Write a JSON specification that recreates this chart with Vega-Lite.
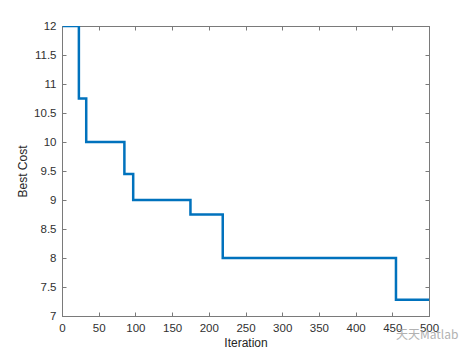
{
  "$schema": "https://vega.github.io/schema/vega-lite/v6.json",
  "autosize": "none",
  "width": 367,
  "height": 290,
  "padding": {"left": 62, "top": 26, "right": 45, "bottom": 39},
  "background": "white",
  "config": {
    "font": "Liberation Sans",
    "view": {"stroke": "#7a7a7a", "strokeWidth": 1},
    "axis": {
      "grid": false,
      "domainColor": "#7a7a7a",
      "tickColor": "#7a7a7a",
      "labelColor": "#303030",
      "titleColor": "#262626",
      "labelFont": "Liberation Sans",
      "titleFont": "Liberation Sans",
      "labelFontSize": 11.5,
      "titleFontSize": 12,
      "titleFontWeight": "normal",
      "labelFlush": false,
      "labelOverlap": false,
      "tickSize": -4
    }
  },
  "data": {
    "values": [
      {"Iteration": 1, "Cost": 12},
      {"Iteration": 23, "Cost": 10.75},
      {"Iteration": 33, "Cost": 10},
      {"Iteration": 85, "Cost": 9.45},
      {"Iteration": 97, "Cost": 9},
      {"Iteration": 175, "Cost": 8.75},
      {"Iteration": 219, "Cost": 8},
      {"Iteration": 455, "Cost": 7.28},
      {"Iteration": 500, "Cost": 7.28}
    ]
  },
  "layer": [
    {
      "mark": {"type": "line", "interpolate": "step-after", "color": "#0072BD", "strokeWidth": 2.5, "clip": true},
      "encoding": {
        "x": {"field": "Iteration", "type": "quantitative", "scale": {"domain": [0, 500], "nice": false},
              "axis": {"values": [0,50,100,150,200,250,300,350,400,450,500], "title": "Iteration", "labelPadding": 10, "titlePadding": 4}},
        "y": {"field": "Cost", "type": "quantitative", "scale": {"domain": [7, 12], "nice": false, "zero": false},
              "axis": {"values": [7,7.5,8,8.5,9,9.5,10,10.5,11,11.5,12], "format": "~g", "title": "Best Cost", "labelPadding": 10, "titlePadding": 4}}
      }
    },
    {
      "mark": {"type": "line", "opacity": 0},
      "encoding": {
        "x": {"field": "Iteration", "type": "quantitative", "scale": {"domain": [0, 500], "nice": false},
              "axis": {"orient": "top", "values": [0,50,100,150,200,250,300,350,400,450,500], "labels": false, "title": null}},
        "y": {"field": "Cost", "type": "quantitative", "scale": {"domain": [7, 12], "nice": false, "zero": false},
              "axis": {"orient": "right", "values": [7,7.5,8,8.5,9,9.5,10,10.5,11,11.5,12], "labels": false, "title": null}}
      }
    },
    {
      "data": {"values": [{"label": "天天Matlab", "Iteration": 540, "Cost": 6.67}]},
      "mark": {"type": "text", "align": "right", "baseline": "middle", "fontSize": 12, "color": "#a0a0a0", "opacity": 0.8, "font": "Noto Sans CJK SC", "clip": false},
      "encoding": {
        "x": {"field": "Iteration", "type": "quantitative", "scale": {"domain": [0, 500], "nice": false}, "axis": null},
        "y": {"field": "Cost", "type": "quantitative", "scale": {"domain": [7, 12], "nice": false, "zero": false}, "axis": null},
        "text": {"field": "label"}
      }
    }
  ],
  "resolve": {"axis": {"x": "independent", "y": "independent"}}
}
